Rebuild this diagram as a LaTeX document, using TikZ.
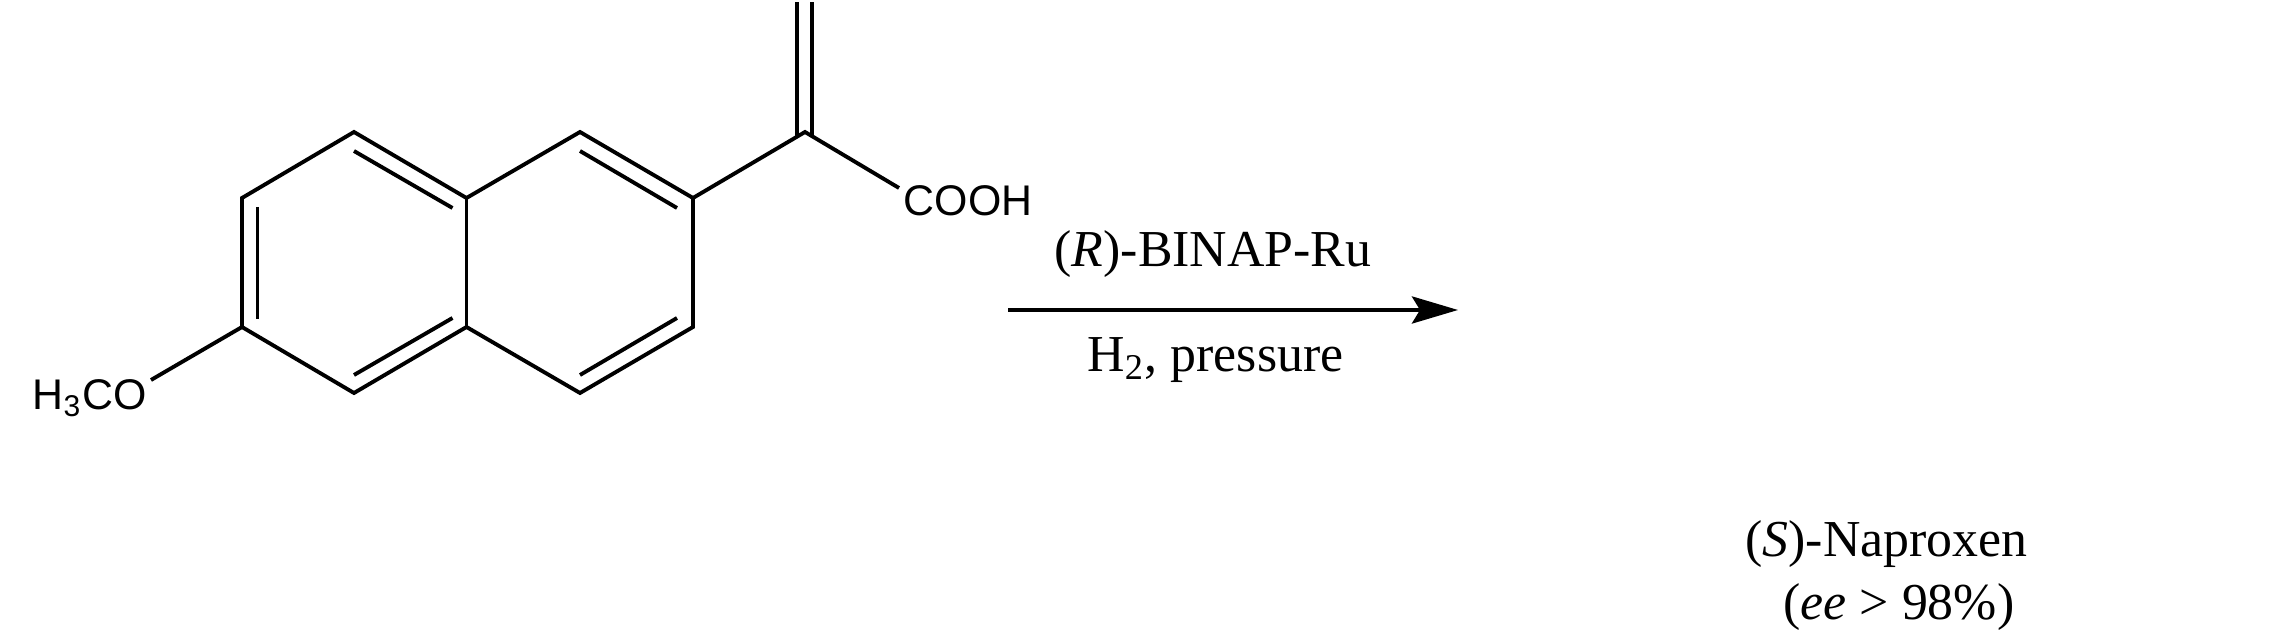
\documentclass[tikz,border=0pt]{standalone}
\usepackage{fontspec}
\setmainfont{Liberation Serif}
\newfontfamily\atomfont{Liberation Sans}
\usetikzlibrary{arrows.meta}
\begin{document}
\begin{tikzpicture}
	\tikzstyle{bond}=[line width=1.1pt,line join=miter]
	\tikzstyle{rxnarrow}=[line width=1.25pt,-{Stealth[length=4.6mm,width=2.7mm,inset=0.8mm]}]
	\tikzstyle{atomlabel}=[font=\atomfont\fontsize{12.2}{14}\selectfont,inner sep=0pt,anchor=base west]
	\tikzstyle{textlabel}=[font=\fontsize{14.75}{17}\selectfont,inner sep=0pt,anchor=base]
	\useasboundingbox (0,0) rectangle (22.92,6.44);
	% ring atoms
	\coordinate (C1) at (2.42,4.46);
	\coordinate (C2) at (3.54,5.12);
	\coordinate (C3) at (4.665,4.46);
	\coordinate (C4) at (5.80,5.12);
	\coordinate (C5) at (6.93,4.46);
	\coordinate (C6) at (6.93,3.17);
	\coordinate (C7) at (5.80,2.51);
	\coordinate (C8) at (4.665,3.17);
	\coordinate (C9) at (3.54,2.51);
	\coordinate (C10) at (2.42,3.17);
	% ends of the inner double bond lines
	\coordinate (D1a) at (2.575,4.37);
	\coordinate (D1b) at (2.575,3.25);
	\coordinate (D2a) at (3.54,4.93);
	\coordinate (D2b) at (4.525,4.36);
	\coordinate (D3a) at (5.80,4.93);
	\coordinate (D3b) at (6.77,4.36);
	\coordinate (D4a) at (6.77,3.26);
	\coordinate (D4b) at (5.80,2.69);
	\coordinate (D5a) at (4.525,3.26);
	\coordinate (D5b) at (3.54,2.69);
	% side chain
	\coordinate (Calpha) at (8.05,5.12);
	\coordinate (CH2a) at (7.97,6.42);
	\coordinate (CH2b) at (8.12,6.42);
	\coordinate (CH2c) at (7.97,5.08);
	\coordinate (CH2d) at (8.12,5.08);
	\coordinate (COOH-end) at (8.99,4.56);
	\coordinate (OMe-end) at (1.51,2.64);
	\node[atomlabel] (COOH) at (9.03,4.28) {COOH};
	\node[atomlabel] (OMe) at (0.32,2.34) {H\textsubscript{3}CO};
	% arrow
	\coordinate (arrow-start) at (10.08,3.34);
	\coordinate (arrow-end) at (14.58,3.34);
	\node[textlabel] (catalyst) at (12.13,3.77) {(\textit{R})-BINAP-Ru};
	\node[textlabel] (conditions) at (12.155,2.72) {H\textsubscript{2}, pressure};
	\node[textlabel] (product) at (18.865,0.87) {(\textit{S})-Naproxen};
	\node[textlabel] (excess) at (18.99,0.24) {(\textit{ee} > 98\%)};

	\draw[bond] (C1) -- (C2) -- (C3) -- (C4) -- (C5) -- (C6) -- (C7) -- (C8) -- (C9) -- (C10) -- cycle;
	\draw[bond] (C3) -- (C8);
	\draw[bond] (D1a) -- (D1b);
	\draw[bond] (D2a) -- (D2b);
	\draw[bond] (D3a) -- (D3b);
	\draw[bond] (D4a) -- (D4b);
	\draw[bond] (D5a) -- (D5b);
	\draw[bond] (C5) -- (Calpha) -- (COOH-end);
	\draw[bond] (CH2c) -- (CH2a);
	\draw[bond] (CH2d) -- (CH2b);
	\draw[bond] (C10) -- (OMe-end);
	\draw[rxnarrow] (arrow-start) -- (arrow-end);
\end{tikzpicture}
\end{document}
